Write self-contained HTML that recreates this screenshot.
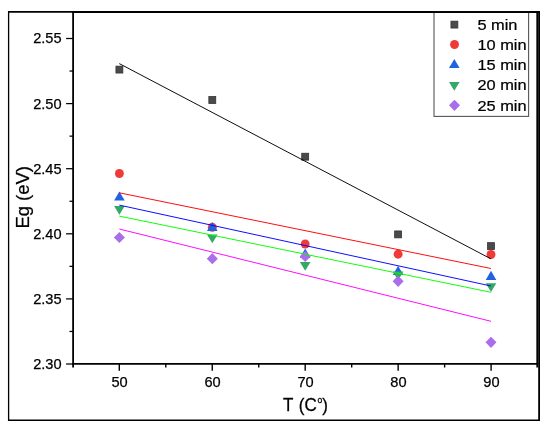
<!DOCTYPE html>
<html><head><meta charset="utf-8"><title>Eg vs T</title>
<style>
html,body{margin:0;padding:0;background:#fff;}
svg{display:block;}
.t{font-family:"Liberation Sans", Arial, sans-serif;font-size:14.6px;fill:#000;stroke:#000;stroke-width:0.25px;}
.ti{font-family:"Liberation Sans", Arial, sans-serif;font-size:17px;fill:#000;stroke:#000;stroke-width:0.25px;}
.tl{font-family:"Liberation Sans", Arial, sans-serif;font-size:16px;fill:#000;stroke:#000;stroke-width:0.25px;}
.ty{font-family:"Liberation Sans", Arial, sans-serif;font-size:17.6px;fill:#000;stroke:#000;stroke-width:0.25px;}
</style></head>
<body>
<svg width="550" height="434" viewBox="0 0 550 434">
<rect x="0" y="0" width="550" height="434" fill="#fff"/>
<line x1="8.6" y1="11.2" x2="8.6" y2="421.1" stroke="#000" stroke-width="1.3"/>
<line x1="8" y1="11.85" x2="540" y2="11.85" stroke="#000" stroke-width="1.6"/>
<line x1="539.1" y1="11.2" x2="539.1" y2="421.1" stroke="#000" stroke-width="1.8"/>
<line x1="8" y1="420.35" x2="540" y2="420.35" stroke="#000" stroke-width="1.5"/>
<rect x="115.95" y="66.15" width="6.9" height="6.9" fill="#4a4a4a" stroke="#333" stroke-width="0.8"/>
<rect x="208.85" y="96.55" width="6.9" height="6.9" fill="#4a4a4a" stroke="#333" stroke-width="0.8"/>
<rect x="301.75" y="153.25" width="6.9" height="6.9" fill="#4a4a4a" stroke="#333" stroke-width="0.8"/>
<rect x="394.65" y="230.95" width="6.9" height="6.9" fill="#4a4a4a" stroke="#333" stroke-width="0.8"/>
<rect x="487.55" y="242.65" width="6.9" height="6.9" fill="#4a4a4a" stroke="#333" stroke-width="0.8"/>
<circle cx="119.40" cy="173.50" r="4.45" fill="#ef3b38"/>
<circle cx="212.30" cy="227.30" r="4.45" fill="#ef3b38"/>
<circle cx="305.20" cy="244.00" r="4.45" fill="#ef3b38"/>
<circle cx="398.10" cy="254.20" r="4.45" fill="#ef3b38"/>
<circle cx="491.00" cy="254.50" r="4.45" fill="#ef3b38"/>
<polygon points="119.40,191.45 124.70,200.55 114.10,200.55" fill="#1f63e0"/>
<polygon points="212.30,221.95 217.60,231.05 207.00,231.05" fill="#1f63e0"/>
<polygon points="305.20,248.55 310.50,257.65 299.90,257.65" fill="#1f63e0"/>
<polygon points="398.10,265.85 403.40,274.95 392.80,274.95" fill="#1f63e0"/>
<polygon points="491.00,270.85 496.30,279.95 485.70,279.95" fill="#1f63e0"/>
<polygon points="114.10,206.00 124.70,206.00 119.40,214.80" fill="#34a865"/>
<polygon points="207.00,234.40 217.60,234.40 212.30,243.20" fill="#34a865"/>
<polygon points="299.90,262.00 310.50,262.00 305.20,270.80" fill="#34a865"/>
<polygon points="392.80,271.40 403.40,271.40 398.10,280.20" fill="#34a865"/>
<polygon points="485.70,283.30 496.30,283.30 491.00,292.10" fill="#34a865"/>
<polygon points="119.40,231.90 124.90,237.50 119.40,243.10 113.90,237.50" fill="#aa6eea"/>
<polygon points="212.30,253.10 217.80,258.70 212.30,264.30 206.80,258.70" fill="#aa6eea"/>
<polygon points="305.20,250.90 310.70,256.50 305.20,262.10 299.70,256.50" fill="#aa6eea"/>
<polygon points="398.10,275.70 403.60,281.30 398.10,286.90 392.60,281.30" fill="#aa6eea"/>
<polygon points="491.00,336.70 496.50,342.30 491.00,347.90 485.50,342.30" fill="#aa6eea"/>
<line x1="119.3" y1="63.6" x2="491.0" y2="258.9" stroke="#000000" stroke-width="0.95"/>
<line x1="119.3" y1="192.8" x2="491.0" y2="268.5" stroke="#ff0000" stroke-width="0.95"/>
<line x1="119.3" y1="205.1" x2="491.0" y2="286.0" stroke="#0000ff" stroke-width="0.95"/>
<line x1="119.3" y1="216.1" x2="491.0" y2="292.3" stroke="#00ff00" stroke-width="0.95"/>
<line x1="119.3" y1="229.0" x2="491.0" y2="321.3" stroke="#ff00ff" stroke-width="0.95"/>
<rect x="434.0" y="12.1" width="94.6" height="104.3" fill="#fff" stroke="#555" stroke-width="1.1"/>
<line x1="73.1" y1="12.1" x2="73.1" y2="367.4" stroke="#000" stroke-width="1.8"/>
<line x1="537.3" y1="12.1" x2="537.3" y2="367.4" stroke="#000" stroke-width="1.9"/>
<line x1="72.19999999999999" y1="12.1" x2="538.1999999999999" y2="12.1" stroke="#000" stroke-width="1.9"/>
<line x1="72.19999999999999" y1="363.9" x2="538.1999999999999" y2="363.9" stroke="#000" stroke-width="1.9"/>
<line x1="66.1" y1="38.50" x2="73.1" y2="38.50" stroke="#000" stroke-width="1.25"/>
<text x="61.6" y="43.40" text-anchor="end" class="t">2.55</text>
<line x1="66.1" y1="103.60" x2="73.1" y2="103.60" stroke="#000" stroke-width="1.25"/>
<text x="61.6" y="108.50" text-anchor="end" class="t">2.50</text>
<line x1="66.1" y1="168.70" x2="73.1" y2="168.70" stroke="#000" stroke-width="1.25"/>
<text x="61.6" y="173.60" text-anchor="end" class="t">2.45</text>
<line x1="66.1" y1="233.80" x2="73.1" y2="233.80" stroke="#000" stroke-width="1.25"/>
<text x="61.6" y="238.70" text-anchor="end" class="t">2.40</text>
<line x1="66.1" y1="298.90" x2="73.1" y2="298.90" stroke="#000" stroke-width="1.25"/>
<text x="61.6" y="303.80" text-anchor="end" class="t">2.35</text>
<line x1="66.1" y1="364.00" x2="73.1" y2="364.00" stroke="#000" stroke-width="1.25"/>
<text x="61.6" y="368.90" text-anchor="end" class="t">2.30</text>
<line x1="69.5" y1="71.05" x2="73.1" y2="71.05" stroke="#000" stroke-width="1.25"/>
<line x1="69.5" y1="136.15" x2="73.1" y2="136.15" stroke="#000" stroke-width="1.25"/>
<line x1="69.5" y1="201.25" x2="73.1" y2="201.25" stroke="#000" stroke-width="1.25"/>
<line x1="69.5" y1="266.35" x2="73.1" y2="266.35" stroke="#000" stroke-width="1.25"/>
<line x1="69.5" y1="331.45" x2="73.1" y2="331.45" stroke="#000" stroke-width="1.25"/>
<line x1="119.30" y1="363.9" x2="119.30" y2="370.8" stroke="#000" stroke-width="1.4"/>
<text x="119.60" y="386.9" text-anchor="middle" class="t">50</text>
<line x1="212.25" y1="363.9" x2="212.25" y2="370.8" stroke="#000" stroke-width="1.4"/>
<text x="212.55" y="386.9" text-anchor="middle" class="t">60</text>
<line x1="305.20" y1="363.9" x2="305.20" y2="370.8" stroke="#000" stroke-width="1.4"/>
<text x="305.50" y="386.9" text-anchor="middle" class="t">70</text>
<line x1="398.15" y1="363.9" x2="398.15" y2="370.8" stroke="#000" stroke-width="1.4"/>
<text x="398.45" y="386.9" text-anchor="middle" class="t">80</text>
<line x1="491.10" y1="363.9" x2="491.10" y2="370.8" stroke="#000" stroke-width="1.4"/>
<text x="491.40" y="386.9" text-anchor="middle" class="t">90</text>
<line x1="165.78" y1="363.9" x2="165.78" y2="367.5" stroke="#000" stroke-width="1.4"/>
<line x1="258.73" y1="363.9" x2="258.73" y2="367.5" stroke="#000" stroke-width="1.4"/>
<line x1="351.68" y1="363.9" x2="351.68" y2="367.5" stroke="#000" stroke-width="1.4"/>
<line x1="444.62" y1="363.9" x2="444.62" y2="367.5" stroke="#000" stroke-width="1.4"/>
<text transform="translate(29.2,228.6) rotate(-90) scale(1.05,1)" class="ty">Eg (eV)</text>
<text transform="translate(283.0,411.3) scale(1,1.1)" class="ti">T <tspan dx="1">(C</tspan><tspan dx="0.8" dy="-8" font-size="8.6">o</tspan><tspan dy="8">)</tspan></text>
<rect x="450.95" y="21.15" width="6.9" height="6.9" fill="#4a4a4a" stroke="#333" stroke-width="0.8"/>
<circle cx="454.50" cy="44.50" r="4.45" fill="#ef3b38"/>
<polygon points="454.30,58.95 459.60,68.05 449.00,68.05" fill="#1f63e0"/>
<polygon points="449.00,82.00 459.60,82.00 454.30,90.80" fill="#34a865"/>
<polygon points="454.50,99.70 460.00,105.30 454.50,110.90 449.00,105.30" fill="#aa6eea"/>
<text transform="translate(477.4,29.80) scale(1.025,0.95)" class="tl">5 min</text>
<text transform="translate(477.4,49.98) scale(1.025,0.95)" class="tl">10 min</text>
<text transform="translate(477.4,70.16) scale(1.025,0.95)" class="tl">15 min</text>
<text transform="translate(477.4,90.34) scale(1.025,0.95)" class="tl">20 min</text>
<text transform="translate(477.4,110.52) scale(1.025,0.95)" class="tl">25 min</text>
</svg>
</body></html>
